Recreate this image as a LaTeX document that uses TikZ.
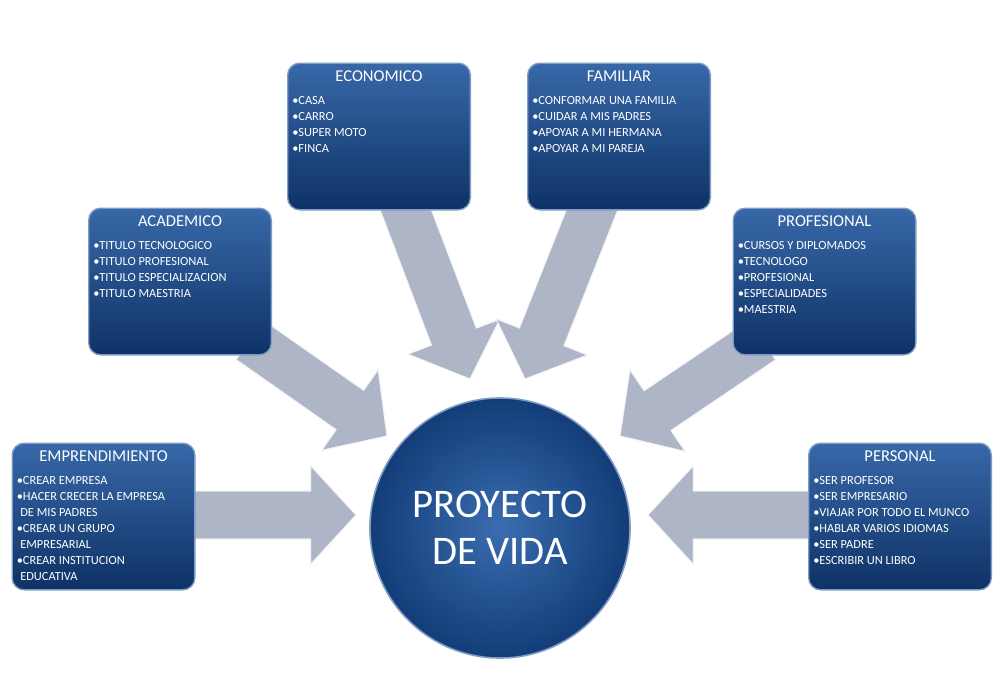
\documentclass[tikz,border=0pt]{standalone}
\usepackage{fontspec}
\setmainfont{Carlito}
\usetikzlibrary{calc}
\definecolor{btop}{HTML}{3868A8}
\definecolor{bbot}{HTML}{0E3266}
\definecolor{bedge}{HTML}{7F9CC4}
\definecolor{afill}{HTML}{AEB5C7}
\definecolor{cin}{HTML}{3B6DB0}
\definecolor{cout}{HTML}{123D78}
\tikzset{
  boxstyle/.style={draw=bedge, line width=1pt, rounded corners=9pt, top color=btop, bottom color=bbot,
    minimum width=137pt, minimum height=110pt, inner sep=0pt},
  titlestyle/.style={text=white, font=\fontsize{12.4}{14}\selectfont, anchor=north},
  itemstyle/.style={text=white, font=\fontsize{9.3}{12}\selectfont, anchor=north west, align=left, inner sep=0pt},
  arrowstyle/.style={fill=afill, draw=white!85!afill, line width=0.6pt}
}
\newcommand{\mybox}[4]{%
  \node[boxstyle] (#1) at (#2) {};
  \node[titlestyle] (#1t) at ($(#1.north)+(0,4)$) {#3};
  \node[itemstyle] (#1i) at ($(#1.north west)+(5,34)$) {#4};
}
\newcommand{\blockarrow}[2]{%
  \fill[arrowstyle] let \p1=($(#2)-(#1)$), \n1={atan2(\y1,\x1)}, \n2={veclen(\x1,\y1)} in
   [shift={(#1)}, rotate=\n1] (0pt,-18pt) -- ({\n2-34pt},-18pt) -- ({\n2-34pt},-37pt) -- (\n2,0pt)
   -- ({\n2-34pt},37pt) -- ({\n2-34pt},18pt) -- (0pt,18pt) -- cycle;
  \draw[arrowstyle, fill=none] let \p1=($(#2)-(#1)$), \n1={atan2(\y1,\x1)}, \n2={veclen(\x1,\y1)} in
   [shift={(#1)}, rotate=\n1] (0pt,-18pt) -- ({\n2-34pt},-18pt) -- ({\n2-34pt},-37pt) -- (\n2,0pt)
   -- ({\n2-34pt},37pt) -- ({\n2-34pt},18pt) -- (0pt,18pt);
}
\begin{document}
\begin{tikzpicture}[x=0.75pt,y=-0.75pt]
\useasboundingbox[fill=white] (0,0) rectangle (1007,675);
\coordinate (a1s) at (190,515); \coordinate (a1e) at (356,515);
\coordinate (a2s) at (812,515); \coordinate (a2e) at (648,515);
\coordinate (a3s) at (250,340); \coordinate (a3e) at (387,436);
\coordinate (a4s) at (402,200); \coordinate (a4e) at (470,379);
\coordinate (a5s) at (596,200); \coordinate (a5e) at (525,379);
\coordinate (a6s) at (762,340); \coordinate (a6e) at (620,436);
\blockarrow{a1s}{a1e}
\blockarrow{a2s}{a2e}
\blockarrow{a3s}{a3e}
\blockarrow{a4s}{a4e}
\blockarrow{a5s}{a5e}
\blockarrow{a6s}{a6e}
\mybox{emp}{103.5,516.5}{EMPRENDIMIENTO}{\fontsize{9.3}{11.4}\selectfont •CREAR EMPRESA\\•HACER CRECER LA EMPRESA\\\hspace*{0.6ex}DE MIS PADRES\\•CREAR UN GRUPO\\\hspace*{0.6ex}EMPRESARIAL\\•CREAR INSTITUCION\\\hspace*{0.6ex}EDUCATIVA}
\mybox{aca}{180,281.5}{ACADEMICO}{•TITULO TECNOLOGICO\\•TITULO PROFESIONAL\\•TITULO ESPECIALIZACION\\•TITULO MAESTRIA}
\mybox{eco}{379,136.5}{ECONOMICO}{•CASA\\•CARRO\\•SUPER MOTO\\•FINCA}
\mybox{fam}{619,136.5}{FAMILIAR}{•CONFORMAR UNA FAMILIA\\•CUIDAR A MIS PADRES\\•APOYAR A MI HERMANA\\•APOYAR A MI PAREJA}
\mybox{pro}{824.5,281.5}{PROFESIONAL}{•CURSOS Y DIPLOMADOS\\•TECNOLOGO\\•PROFESIONAL\\•ESPECIALIDADES\\•MAESTRIA}
\mybox{per}{900,516.5}{PERSONAL}{•SER PROFESOR\\•SER EMPRESARIO\\•VIAJAR POR TODO EL MUNCO\\•HABLAR VARIOS IDIOMAS\\•SER PADRE\\•ESCRIBIR UN LIBRO}
\node[circle, draw=bedge, line width=1.2pt, inner color=cin, outer color=cout, minimum size=195pt,
  text=white, font=\fontsize{30.5}{35}\selectfont, align=center] (pv) at (500,528) {PROYECTO\\DE VIDA};
\end{tikzpicture}
\end{document}
